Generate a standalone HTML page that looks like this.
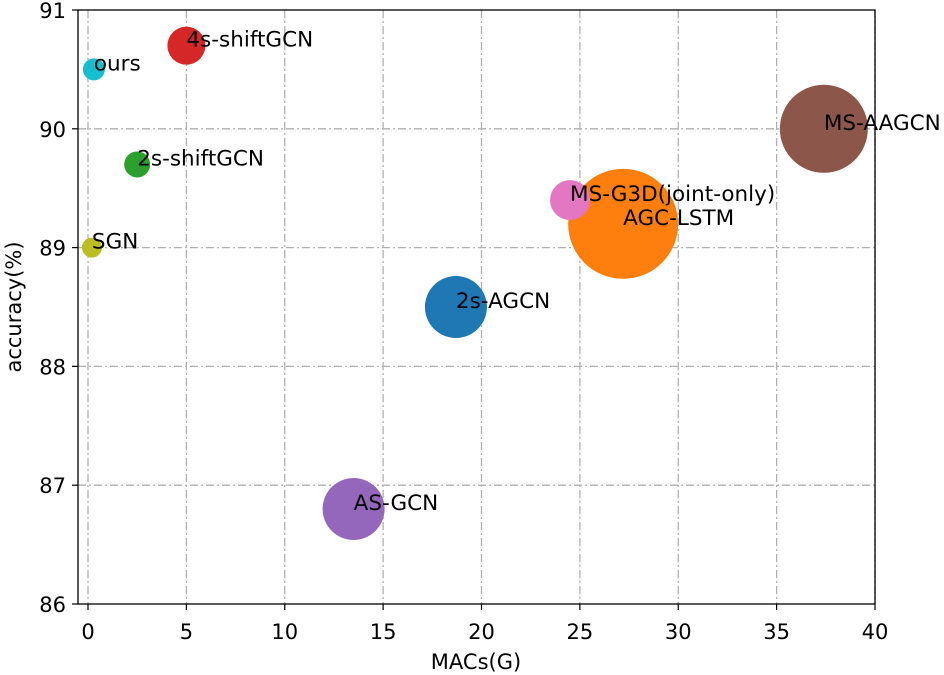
<!DOCTYPE html>
<html><head><meta charset="utf-8">
<style>
body{margin:0;background:#fff;}
svg{display:block;font-family:"DejaVu Sans","Liberation Sans",sans-serif;}
</style></head>
<body>
<svg id="chart" width="944" height="675">
<g id="grid"></g>
<g id="marks"></g>
<g id="labels"></g>
<rect x="78" y="10" width="797" height="594" fill="none" stroke="#000" stroke-width="1.3"/>
<g id="axes"></g>
<text x="476" y="669" font-size="21" text-anchor="middle">MACs(G)</text>
<text transform="translate(21,307) rotate(-90)" font-size="21" text-anchor="middle">accuracy(%)</text>
</svg>
<script>
const methods=["AGC-LSTM","MS-AAGCN","2s-AGCN","AS-GCN","MS-G3D(joint-only)","4s-shiftGCN","2s-shiftGCN","ours","SGN"];
const macs=[27.2,37.4,18.7,13.5,24.5,5.0,2.5,0.3,0.2];
const accuracy=[89.2,90.0,88.5,86.8,89.4,90.7,89.7,90.5,89.0];
const sizes=[55,44,31,31,20,19,13,11,10];
const colors=["#ff7f0e","#8c564b","#1f77b4","#9467bd","#e377c2","#d62728","#2ca02c","#17becf","#bcbd22"];
const xTicks=[0,5,10,15,20,25,30,35,40];
const yTicks=[86,87,88,89,90,91];
const NS="http://www.w3.org/2000/svg";
const xs=v=>88+v*19.675;
const ys=v=>10+(91-v)*118.8;
function mk(tag,attrs,parent){const e=document.createElementNS(NS,tag);for(const k in attrs)e.setAttribute(k,attrs[k]);parent.appendChild(e);return e;}
const grid=document.getElementById('grid'),axes=document.getElementById('axes'),marks=document.getElementById('marks'),labels=document.getElementById('labels');
xTicks.forEach(t=>{
 const l=mk('line',{x1:xs(t),x2:xs(t),y1:10,y2:604,stroke:'#b0b0b0','stroke-width':1.3,'stroke-dasharray':'8,3,2,3'},grid);
 
 
 const tk=mk('line',{x1:xs(t),x2:xs(t),y1:604,y2:610,stroke:'#000','stroke-width':1.2},axes);
 
 
 const tx=mk('text',{x:xs(t),y:639,'font-size':21,'text-anchor':'middle'},axes);
 tx.textContent=t;
 
 
});
yTicks.forEach(t=>{
 if(t!==91&&t!==86){
 const l=mk('line',{x1:78,x2:875,y1:ys(t),y2:ys(t),stroke:'#b0b0b0','stroke-width':1.3,'stroke-dasharray':'8,3,2,3'},grid);
 
 }
 const tk=mk('line',{x1:72,x2:78,y1:ys(t),y2:ys(t),stroke:'#000','stroke-width':1.2},axes);
 
 
 const tx=mk('text',{x:66,y:ys(t)+8,'font-size':21,'text-anchor':'end'},axes);
 tx.textContent=t;
 
 
});
methods.forEach((m,i)=>{
 const c=mk('circle',{cx:xs(macs[i]),cy:ys(accuracy[i]),r:sizes[i],fill:colors[i]},marks);
 
 
 const t=mk('text',{x:xs(macs[i]),y:ys(accuracy[i])+1,'font-size':21.5},labels);
 t.textContent=m;
 
 
});
</script>
</body></html>
